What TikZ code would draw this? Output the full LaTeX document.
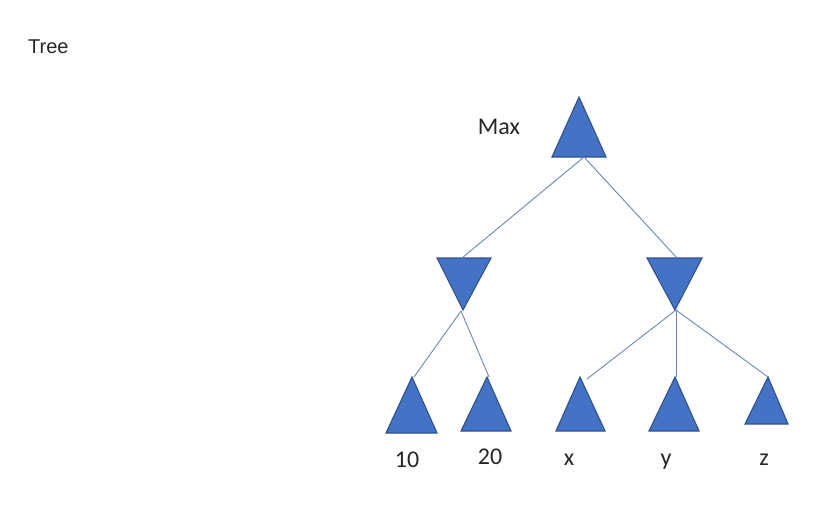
\documentclass[tikz,border=0pt]{standalone}
\usepackage{fontspec}
\setmainfont{Carlito}
\newfontfamily\arialfont{Liberation Sans}
\definecolor{trifill}{HTML}{4472C4}
\definecolor{tridraw}{HTML}{2F528F}
\definecolor{edgecol}{HTML}{6A86B8}
\begin{document}
\begin{tikzpicture}[x=1pt,y=-1pt,
  tri/.style={fill=trifill,draw=tridraw,line width=1.1pt,line join=miter},
  edge/.style={draw=edgecol,line width=0.9pt},
  lbl/.style={font=\fontsize{24}{28}\selectfont,text=black!85,inner sep=0pt}]
\useasboundingbox[fill=white] (0,0) rectangle (840,516);
\node[font=\arialfont\fontsize{20}{24}\selectfont,text=black!85,inner sep=0pt,anchor=west] (title) at (28,47) {Tree};
% root (max)
\draw[tri] (579,97) -- (606,157) -- (552,157) -- cycle;
\coordinate (rootB) at (584,157);
\node[lbl] (maxlbl) at (499,127) {Max};
% min nodes
\draw[tri] (437,258) -- (491,258) -- (463,310) -- cycle;
\coordinate (minLT) at (462,258);
\coordinate (minLB) at (461,311);
\draw[tri] (647,258) -- (702,258) -- (675,310) -- cycle;
\coordinate (minRT) at (677,258);
\coordinate (minRB) at (676,310);
% leaves
\draw[tri] (412,377) -- (437,433) -- (386,433) -- cycle;
\coordinate (l10) at (414,377);
\draw[tri] (487,377) -- (511,431) -- (461,431) -- cycle;
\coordinate (l20) at (489,377);
\draw[tri] (580,377) -- (605,431) -- (556,431) -- cycle;
\coordinate (lx) at (587,379);
\draw[tri] (675,377) -- (699,431) -- (649,431) -- cycle;
\coordinate (ly) at (676,377);
\draw[tri] (768,377) -- (788,424) -- (745,424) -- cycle;
\coordinate (lz) at (768,377);
% edges
\draw[edge] (rootB) -- (minLT);
\draw[edge] (rootB) -- (minRT);
\draw[edge] (minLB) -- (l10);
\draw[edge] (minLB) -- (l20);
\draw[edge] (minRB) -- (lx);
\draw[edge] (minRB) -- (ly);
\draw[edge] (minRB) -- (lz);
% labels
\node[lbl] (t10) at (407,460) {10};
\node[lbl] (t20) at (490,457) {20};
\node[lbl] (tx) at (569,460) {x};
\node[lbl] (ty) at (666,462) {y};
\node[lbl] (tz) at (764,460) {z};
\end{tikzpicture}
\end{document}
